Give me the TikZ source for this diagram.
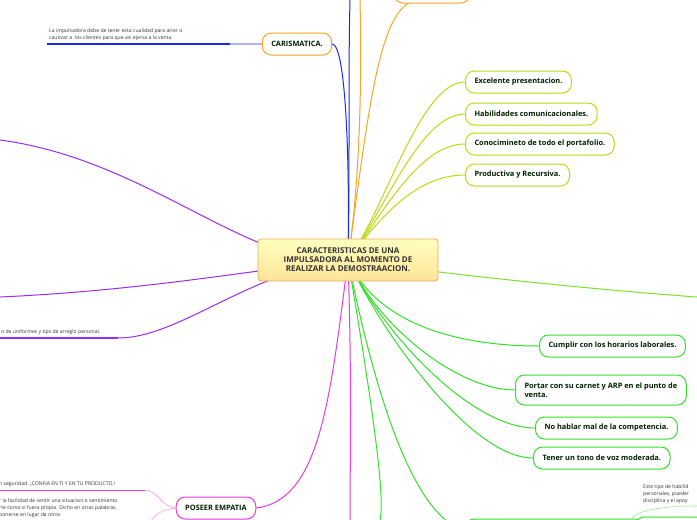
\documentclass[tikz,border=0pt]{standalone}
\usepackage{fontspec}
\setmainfont{Open Sans}
\begin{document}
\begin{tikzpicture}[x=1pt,y=-1pt,
 box/.style={draw,line width=1pt,rounded corners=9pt,fill=white,font=\bfseries\fontsize{7.4}{9}\selectfont,text=black!75!green!50!black,inner xsep=9pt,minimum height=22pt,align=left},
 note/.style={font=\fontsize{5.1}{7}\selectfont,text=black!80,align=left,anchor=south west,inner sep=1pt},
 br/.style={line width=1pt}]
\definecolor{xy}{HTML}{E6D600}\definecolor{xo}{HTML}{F5A623}\definecolor{xl}{HTML}{7EE02A}\definecolor{xg}{HTML}{33E02A}
\definecolor{xm}{HTML}{E83AE0}\definecolor{xp}{HTML}{9A2BF0}\definecolor{xb}{HTML}{1A2BE8}
\fill[white] (0,0) rectangle (697,520);
\useasboundingbox (0,0) rectangle (697,520);
\coordinate (c) at (348,260);
\coordinate (t1) at (350,0); \coordinate (t2) at (360,0); \coordinate (t3) at (420,0);
\coordinate (p1) at (0,140); \coordinate (p2) at (0,297); \coordinate (m1) at (350,520);
\coordinate (g0) at (697,297); \coordinate (g1) at (380,520);
% branches
\draw[br,xb] (c) .. controls (350,180) and (348,80) .. (t1);
\draw[br,xo] (c) .. controls (360,180) and (362,80) .. (t2);
\draw[br,xo] (c) .. controls (370,100) and (380,0) .. (t3);
\draw[br,xp] (c) .. controls (250,270) and (150,160) .. (p1);
\draw[br,xp] (c) .. controls (250,270) and (150,290) .. (p2);
\draw[br,xm] (c) .. controls (352,380) and (350,460) .. (m1);
\draw[br,xl] (c) .. controls (450,275) and (600,290) .. (g0);
\draw[br,xg] (c) .. controls (375,420) and (385,500) .. (g1);
% top
\node[box,draw=xo] (car) at (297,44) {CARISMATICA.};
\draw[line width=1.2pt,xb!35] (car.west) -- (230,44);
\draw[line width=1.2pt,xb] (230,44) -- (47,44);
\node[note] (n1) at (48,42) {La impulsadora debe de tener esta cualidad para atrer o\\cautivar a\ \ los clientes para que asi ejersa a la venta.};
\draw[br,xb] (c) .. controls (350,150) and (345,44) .. (car.east);
\node[box,draw=xo,minimum width=76pt] (top) at (432,-8) {};
% yellow
\foreach \n/\y/\t in {a/82/Excelente presentacion.,b/114/Habilidades comunicacionales.,d/144/Conocimineto de todo el portafolio.,e/175/Productiva y Recursiva.}{
 \node[box,draw=xy!60!xl,anchor=west] (\n) at (465,\y) {\t};
 \draw[br,xy!60!xl] (c) .. controls (385,210) and (420,\y) .. (\n.west);}
% green
\foreach \n/\x/\y/\t in {f/539/346/Cumplir con los horarios laborales.,h/535/428/No hablar mal de la competencia.,i/533/458/Tener un tono de voz moderada.}{
 \node[box,draw=xg,anchor=west] (\n) at (\x,\y) {\t};
 \draw[br,xg] (c) .. controls (380,330) and (470,\y) .. (\n.west);}
\node[box,draw=xg,anchor=west,minimum height=30pt] (k) at (515,390) {Portar con su carnet y ARP en el punto de\\venta.};
\draw[br,xg] (c) .. controls (380,330) and (460,390) .. (k.west);
\node[box,draw=xg,anchor=west,minimum width=180pt] (bb) at (465,530) {};
\draw[br,xg] (c) .. controls (380,420) and (420,520) .. (bb.west);
\node[box,draw=xg,anchor=west,minimum width=80pt] (br2) at (635,528) {};
\node[note] (n5) at (642,505) {Este tipo de habilid\\personales, pueder\\disciplina y el apoy};
\draw[line width=0.6pt,xg!50] (br2.west) .. controls (620,518) and (640,506) .. (697,506);
% purple
\node[note] (n2) at (0,336) {o de uniformes y tips de arreglo personal.};
\draw[line width=1.2pt,xp] (0,338) -- (118,338);
\draw[br,xp] (c) .. controls (250,270) and (180,338) .. (118,338);
% magenta
\node[box,draw=xm] (emp) at (216,508) {POSEER EMPATIA};
\draw[br,xm] (c) .. controls (330,400) and (320,500) .. (emp.east);
\node[note] (n3) at (-2,488) {n seguridad. ¡CONFIA EN TI Y EN TU PRODUCTO.!};
\draw[line width=1pt,xm] (0,490) -- (145,490);
\draw[line width=0.6pt,xm!50] (145,490) .. controls (160,492) and (160,506) .. (emp.west);
\node[note,anchor=north west] (n4) at (-2,497) {r la facilidad de sentir una situacion o sentimiento\\rte como si fuera propia. Dicho en otras palabras,\\ponerse en lugar de otros};
\draw[line width=0.6pt,xm!50] (emp.west) .. controls (160,510) and (155,515) .. (150,522);
% center
\node[draw=xo!60!brown!80,line width=0.8pt,rounded corners=3pt,top color=yellow!25!white,bottom color=yellow!45!orange!40,
 font=\bfseries\fontsize{8}{9}\selectfont,text=black!80,align=center,minimum width=180pt,minimum height=42pt,inner sep=2pt] (ctr) at (348,260)
 {CARACTERISTICAS DE UNA\\IMPULSADORA AL MOMENTO DE\\REALIZAR LA DEMOSTRAACION.};
\end{tikzpicture}
\end{document}
